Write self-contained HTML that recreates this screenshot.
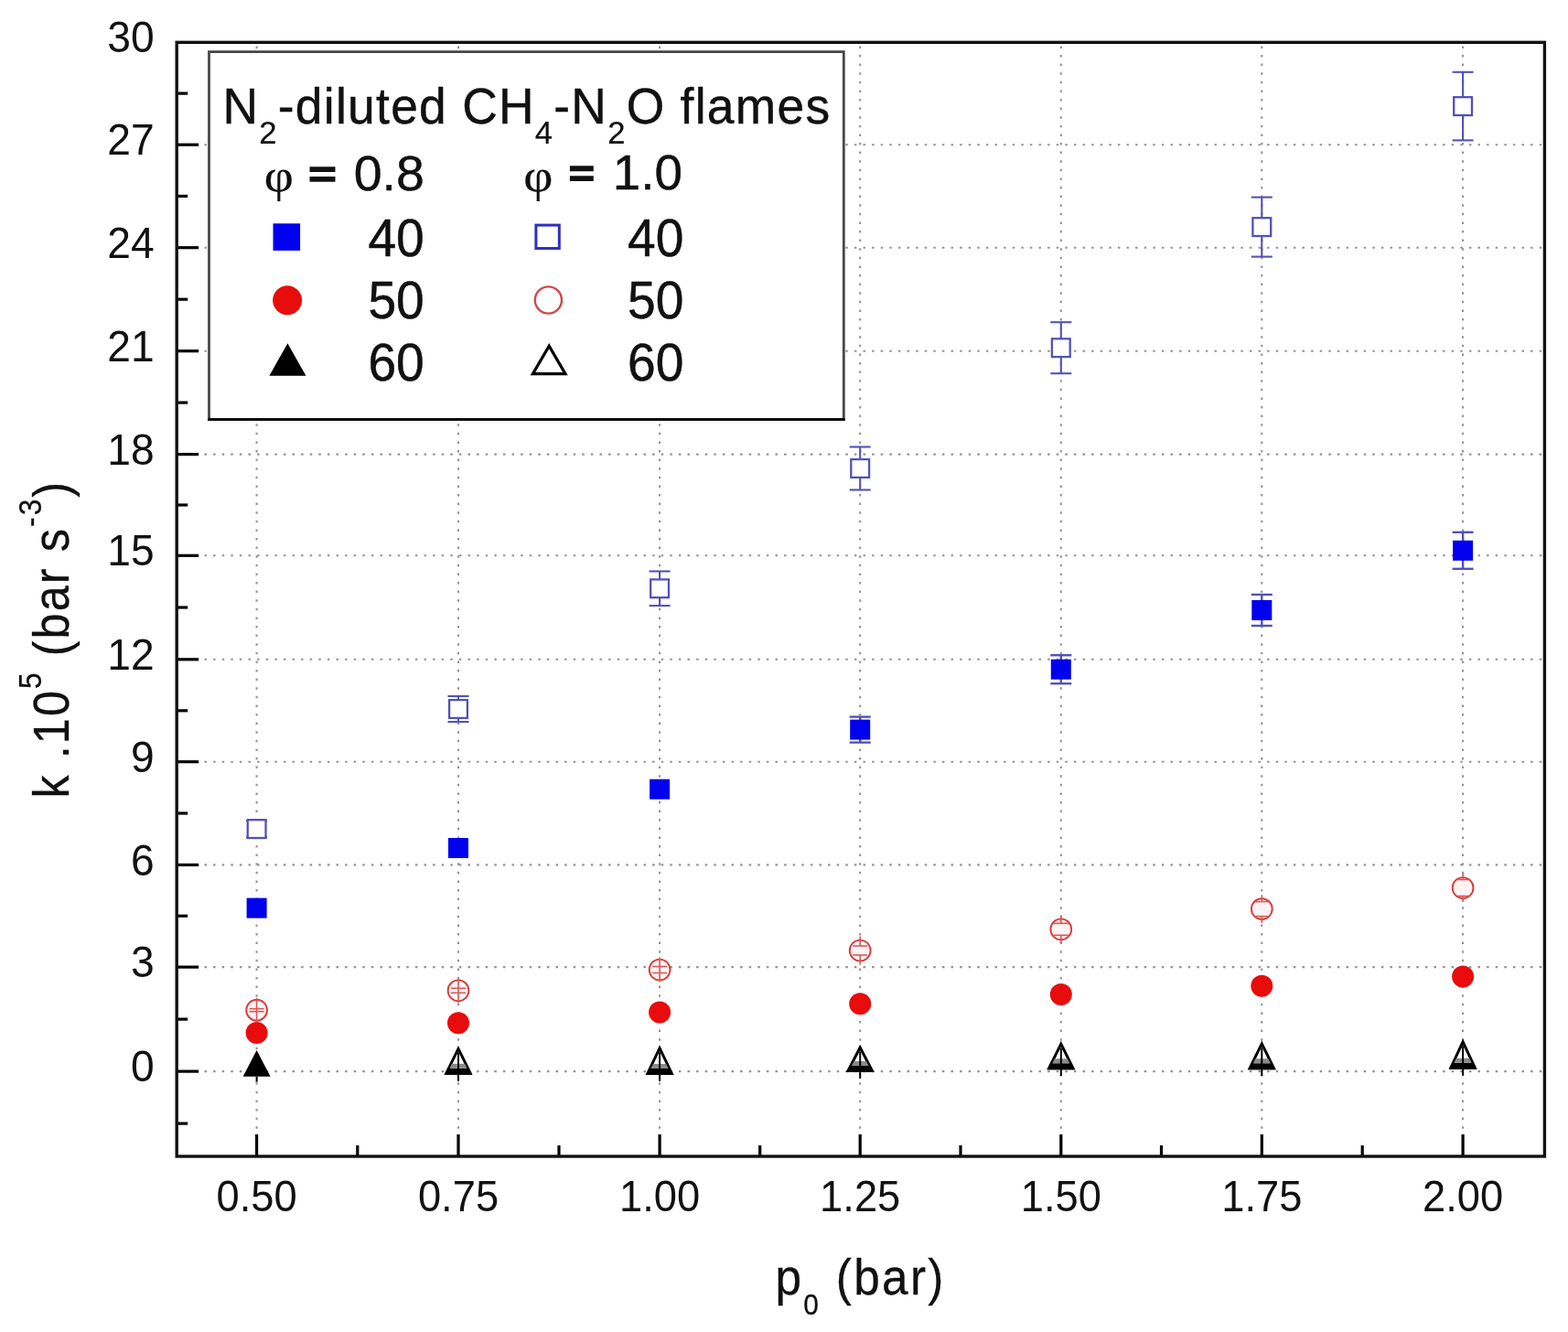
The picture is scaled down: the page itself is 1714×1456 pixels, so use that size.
<!DOCTYPE html>
<html><head><meta charset="utf-8"><title>k vs p0</title>
<style>html,body{margin:0;padding:0;background:#fff;} svg{display:block;}</style>
</head><body>
<svg width="1714" height="1456" viewBox="0 0 1714 1456"><rect width="1714" height="1456" fill="#fff"/><g stroke="#939393" stroke-width="2.1" stroke-dasharray="2.5 7.1" fill="none"><line x1="194.7" y1="1171.1" x2="1686.9" y2="1171.1"/><line x1="194.7" y1="1057.1" x2="1686.9" y2="1057.1"/><line x1="194.7" y1="945.4" x2="1686.9" y2="945.4"/><line x1="194.7" y1="832.7" x2="1686.9" y2="832.7"/><line x1="194.7" y1="720.8" x2="1686.9" y2="720.8"/><line x1="194.7" y1="607.3" x2="1686.9" y2="607.3"/><line x1="194.7" y1="496.6" x2="1686.9" y2="496.6"/><line x1="194.7" y1="383.7" x2="1686.9" y2="383.7"/><line x1="194.7" y1="270.7" x2="1686.9" y2="270.7"/><line x1="194.7" y1="158.2" x2="1686.9" y2="158.2"/><line x1="280.6" y1="1262.5" x2="280.6" y2="47.8"/><line x1="501.0" y1="1262.5" x2="501.0" y2="47.8"/><line x1="721.1" y1="1262.5" x2="721.1" y2="47.8"/><line x1="940.2" y1="1262.5" x2="940.2" y2="47.8"/><line x1="1159.8" y1="1262.5" x2="1159.8" y2="47.8"/><line x1="1379.3" y1="1262.5" x2="1379.3" y2="47.8"/><line x1="1599.1" y1="1262.5" x2="1599.1" y2="47.8"/></g>
<g><polygon points="280.6,1148.0 265.6,1176.7 295.6,1176.7" fill="#000"/><line x1="280.6" y1="1176.7" x2="280.6" y2="1182.7" stroke="#000" stroke-width="2"/><polygon points="501.0,1146.3 487.8,1173.2 514.2,1173.2" fill="#fff" stroke="#000" stroke-width="3" stroke-linejoin="miter"/><polygon points="489.5,1167.7 512.5,1167.7 516.0,1174.7 486.0,1174.7" fill="#000"/><polygon points="494.0,1162.7 508.0,1162.7 510.5,1167.7 491.5,1167.7" fill="#8a8a8a"/><line x1="501.0" y1="1150.8" x2="501.0" y2="1181.7" stroke="#000" stroke-width="2"/><polygon points="721.1,1145.7 707.9,1173.4 734.3,1173.4" fill="#fff" stroke="#000" stroke-width="3" stroke-linejoin="miter"/><polygon points="709.5,1167.9 732.7,1167.9 736.1,1174.9 706.1,1174.9" fill="#000"/><polygon points="714.0,1162.9 728.2,1162.9 730.7,1167.9 711.5,1167.9" fill="#8a8a8a"/><line x1="721.1" y1="1150.2" x2="721.1" y2="1181.9" stroke="#000" stroke-width="2"/><polygon points="940.2,1145.0 927.0,1170.5 953.4,1170.5" fill="#fff" stroke="#000" stroke-width="3" stroke-linejoin="miter"/><polygon points="928.9,1165.0 951.5,1165.0 955.2,1172.0 925.2,1172.0" fill="#000"/><polygon points="933.5,1160.0 946.9,1160.0 949.5,1165.0 930.9,1165.0" fill="#8a8a8a"/><line x1="940.2" y1="1149.5" x2="940.2" y2="1179.0" stroke="#000" stroke-width="2"/><polygon points="1159.8,1141.2 1146.6,1167.8 1173.0,1167.8" fill="#fff" stroke="#000" stroke-width="3" stroke-linejoin="miter"/><polygon points="1148.3,1162.3 1171.3,1162.3 1174.8,1169.3 1144.8,1169.3" fill="#000"/><polygon points="1152.9,1157.3 1166.7,1157.3 1169.3,1162.3 1150.3,1162.3" fill="#8a8a8a"/><line x1="1159.8" y1="1145.7" x2="1159.8" y2="1176.3" stroke="#000" stroke-width="2"/><polygon points="1379.3,1140.8 1366.1,1167.8 1392.5,1167.8" fill="#fff" stroke="#000" stroke-width="3" stroke-linejoin="miter"/><polygon points="1367.8,1162.3 1390.8,1162.3 1394.3,1169.3 1364.3,1169.3" fill="#000"/><polygon points="1372.3,1157.3 1386.3,1157.3 1388.8,1162.3 1369.8,1162.3" fill="#8a8a8a"/><line x1="1379.3" y1="1145.3" x2="1379.3" y2="1176.3" stroke="#000" stroke-width="2"/><polygon points="1599.1,1138.9 1585.9,1167.2 1612.3,1167.2" fill="#fff" stroke="#000" stroke-width="3" stroke-linejoin="miter"/><polygon points="1587.5,1161.7 1610.7,1161.7 1614.1,1168.7 1584.1,1168.7" fill="#000"/><polygon points="1591.9,1156.7 1606.3,1156.7 1608.7,1161.7 1589.5,1161.7" fill="#8a8a8a"/><line x1="1599.1" y1="1143.4" x2="1599.1" y2="1175.7" stroke="#000" stroke-width="2"/><circle cx="280.6" cy="1129.1" r="12" fill="#e80c0c"/><circle cx="501.0" cy="1118.3" r="12" fill="#e80c0c"/><circle cx="721.1" cy="1106.6" r="12" fill="#e80c0c"/><circle cx="940.2" cy="1097.2" r="12" fill="#e80c0c"/><circle cx="1159.8" cy="1086.9" r="12" fill="#e80c0c"/><circle cx="1379.3" cy="1077.7" r="12" fill="#e80c0c"/><circle cx="1599.1" cy="1067.5" r="12" fill="#e80c0c"/><circle cx="280.6" cy="1104.2" r="11.4" fill="#fff3f3" stroke="#d83c3c" stroke-width="1.9"/><g stroke="#d65a5a" stroke-width="1.6"><line x1="272.6" y1="1102.7" x2="288.6" y2="1102.7"/><line x1="272.6" y1="1105.7" x2="288.6" y2="1105.7"/><line x1="280.6" y1="1090.8" x2="280.6" y2="1117.6"/></g><circle cx="501.0" cy="1082.8" r="11.4" fill="#fff3f3" stroke="#d83c3c" stroke-width="1.9"/><g stroke="#d65a5a" stroke-width="1.6"><line x1="493.0" y1="1080.3" x2="509.0" y2="1080.3"/><line x1="493.0" y1="1085.3" x2="509.0" y2="1085.3"/><line x1="501.0" y1="1069.4" x2="501.0" y2="1096.2"/></g><circle cx="721.1" cy="1060.0" r="11.4" fill="#fff3f3" stroke="#d83c3c" stroke-width="1.9"/><g stroke="#d65a5a" stroke-width="1.6"><line x1="713.1" y1="1056.5" x2="729.1" y2="1056.5"/><line x1="713.1" y1="1063.5" x2="729.1" y2="1063.5"/><line x1="721.1" y1="1046.6" x2="721.1" y2="1073.4"/></g><circle cx="940.2" cy="1039.0" r="11.4" fill="#fff3f3" stroke="#d83c3c" stroke-width="1.9"/><g stroke="#d65a5a" stroke-width="1.6"><line x1="932.2" y1="1034.0" x2="948.2" y2="1034.0"/><line x1="932.2" y1="1044.0" x2="948.2" y2="1044.0"/><line x1="940.2" y1="1023.6" x2="940.2" y2="1034.0"/><line x1="940.2" y1="1044.0" x2="940.2" y2="1054.4"/></g><circle cx="1159.8" cy="1015.8" r="11.4" fill="#fff3f3" stroke="#d83c3c" stroke-width="1.9"/><g stroke="#d65a5a" stroke-width="1.6"><line x1="1151.8" y1="1009.3" x2="1167.8" y2="1009.3"/><line x1="1151.8" y1="1022.3" x2="1167.8" y2="1022.3"/><line x1="1159.8" y1="1000.4" x2="1159.8" y2="1009.3"/><line x1="1159.8" y1="1022.3" x2="1159.8" y2="1031.2"/></g><circle cx="1379.3" cy="993.6" r="11.4" fill="#fff3f3" stroke="#d83c3c" stroke-width="1.9"/><g stroke="#d65a5a" stroke-width="1.6"><line x1="1372.2" y1="985.6" x2="1386.4" y2="985.6"/><line x1="1372.2" y1="1001.6" x2="1386.4" y2="1001.6"/><line x1="1379.3" y1="978.2" x2="1379.3" y2="985.6"/><line x1="1379.3" y1="1001.6" x2="1379.3" y2="1009.0"/></g><circle cx="1599.1" cy="970.5" r="11.4" fill="#fff3f3" stroke="#d83c3c" stroke-width="1.9"/><g stroke="#d65a5a" stroke-width="1.6"><line x1="1593.1" y1="961.5" x2="1605.1" y2="961.5"/><line x1="1593.1" y1="979.5" x2="1605.1" y2="979.5"/><line x1="1599.1" y1="955.1" x2="1599.1" y2="961.5"/><line x1="1599.1" y1="979.5" x2="1599.1" y2="985.9"/></g><rect x="269.6" y="981.6" width="22" height="22" fill="#0000ee"/><rect x="490.0" y="916.0" width="22" height="22" fill="#0000ee"/><rect x="710.1" y="851.7" width="22" height="22" fill="#0000ee"/><g stroke="#5252b6" stroke-width="2.4"><line x1="940.2" y1="783.6" x2="940.2" y2="811.6"/><line x1="928.7" y1="783.6" x2="951.7" y2="783.6"/><line x1="928.7" y1="811.6" x2="951.7" y2="811.6"/></g><rect x="929.2" y="786.6" width="22" height="22" fill="#0000ee"/><g stroke="#5252b6" stroke-width="2.4"><line x1="1159.8" y1="716.2" x2="1159.8" y2="747.2"/><line x1="1148.3" y1="716.2" x2="1171.3" y2="716.2"/><line x1="1148.3" y1="747.2" x2="1171.3" y2="747.2"/></g><rect x="1148.8" y="720.7" width="22" height="22" fill="#0000ee"/><g stroke="#5252b6" stroke-width="2.4"><line x1="1379.3" y1="650.0" x2="1379.3" y2="684.0"/><line x1="1367.8" y1="650.0" x2="1390.8" y2="650.0"/><line x1="1367.8" y1="684.0" x2="1390.8" y2="684.0"/></g><rect x="1368.3" y="656.0" width="22" height="22" fill="#0000ee"/><g stroke="#5252b6" stroke-width="2.4"><line x1="1599.1" y1="581.8" x2="1599.1" y2="621.8"/><line x1="1587.6" y1="581.8" x2="1610.6" y2="581.8"/><line x1="1587.6" y1="621.8" x2="1610.6" y2="621.8"/></g><rect x="1588.1" y="590.8" width="22" height="22" fill="#0000ee"/><g stroke="#5252b6" stroke-width="2.1"><line x1="280.6" y1="897.1" x2="280.6" y2="896.1"/><line x1="280.6" y1="916.1" x2="280.6" y2="915.1"/><line x1="269.1" y1="897.1" x2="292.1" y2="897.1"/><line x1="269.1" y1="915.1" x2="292.1" y2="915.1"/></g><rect x="270.7" y="896.2" width="19.8" height="19.8" fill="#fff" stroke="#5252b6" stroke-width="2.3"/><g stroke="#5252b6" stroke-width="2.1"><line x1="501.0" y1="761.0" x2="501.0" y2="765.0"/><line x1="501.0" y1="785.0" x2="501.0" y2="789.0"/><line x1="489.5" y1="761.0" x2="512.5" y2="761.0"/><line x1="489.5" y1="789.0" x2="512.5" y2="789.0"/></g><rect x="491.1" y="765.1" width="19.8" height="19.8" fill="#fff" stroke="#5252b6" stroke-width="2.3"/><g stroke="#5252b6" stroke-width="2.1"><line x1="721.1" y1="624.5" x2="721.1" y2="633.3"/><line x1="721.1" y1="653.3" x2="721.1" y2="662.1"/><line x1="709.6" y1="624.5" x2="732.6" y2="624.5"/><line x1="709.6" y1="662.1" x2="732.6" y2="662.1"/></g><rect x="711.2" y="633.4" width="19.8" height="19.8" fill="#fff" stroke="#5252b6" stroke-width="2.3"/><g stroke="#5252b6" stroke-width="2.1"><line x1="940.2" y1="488.5" x2="940.2" y2="502.0"/><line x1="940.2" y1="522.0" x2="940.2" y2="535.5"/><line x1="928.7" y1="488.5" x2="951.7" y2="488.5"/><line x1="928.7" y1="535.5" x2="951.7" y2="535.5"/></g><rect x="930.3" y="502.1" width="19.8" height="19.8" fill="#fff" stroke="#5252b6" stroke-width="2.3"/><g stroke="#5252b6" stroke-width="2.1"><line x1="1159.8" y1="352.2" x2="1159.8" y2="370.2"/><line x1="1159.8" y1="390.2" x2="1159.8" y2="408.2"/><line x1="1148.3" y1="352.2" x2="1171.3" y2="352.2"/><line x1="1148.3" y1="408.2" x2="1171.3" y2="408.2"/></g><rect x="1149.9" y="370.3" width="19.8" height="19.8" fill="#fff" stroke="#5252b6" stroke-width="2.3"/><g stroke="#5252b6" stroke-width="2.1"><line x1="1379.3" y1="215.6" x2="1379.3" y2="238.1"/><line x1="1379.3" y1="258.1" x2="1379.3" y2="280.6"/><line x1="1367.8" y1="215.6" x2="1390.8" y2="215.6"/><line x1="1367.8" y1="280.6" x2="1390.8" y2="280.6"/></g><rect x="1369.4" y="238.2" width="19.8" height="19.8" fill="#fff" stroke="#5252b6" stroke-width="2.3"/><g stroke="#5252b6" stroke-width="2.1"><line x1="1599.1" y1="78.8" x2="1599.1" y2="106.1"/><line x1="1599.1" y1="126.1" x2="1599.1" y2="153.4"/><line x1="1587.6" y1="78.8" x2="1610.6" y2="78.8"/><line x1="1587.6" y1="153.4" x2="1610.6" y2="153.4"/></g><rect x="1589.2" y="106.2" width="19.8" height="19.8" fill="#fff" stroke="#5252b6" stroke-width="2.3"/></g>
<g stroke="#000" stroke-width="3.2" fill="none"><line x1="193.2" y1="1171.1" x2="217.2" y2="1171.1"/><line x1="193.2" y1="1057.1" x2="217.2" y2="1057.1"/><line x1="193.2" y1="945.4" x2="217.2" y2="945.4"/><line x1="193.2" y1="832.7" x2="217.2" y2="832.7"/><line x1="193.2" y1="720.8" x2="217.2" y2="720.8"/><line x1="193.2" y1="607.3" x2="217.2" y2="607.3"/><line x1="193.2" y1="496.6" x2="217.2" y2="496.6"/><line x1="193.2" y1="383.7" x2="217.2" y2="383.7"/><line x1="193.2" y1="270.7" x2="217.2" y2="270.7"/><line x1="193.2" y1="158.2" x2="217.2" y2="158.2"/><line x1="193.2" y1="1228.1" x2="205.2" y2="1228.1"/><line x1="193.2" y1="1114.1" x2="205.2" y2="1114.1"/><line x1="193.2" y1="1001.2" x2="205.2" y2="1001.2"/><line x1="193.2" y1="889.0" x2="205.2" y2="889.0"/><line x1="193.2" y1="776.8" x2="205.2" y2="776.8"/><line x1="193.2" y1="664.0" x2="205.2" y2="664.0"/><line x1="193.2" y1="552.0" x2="205.2" y2="552.0"/><line x1="193.2" y1="440.1" x2="205.2" y2="440.1"/><line x1="193.2" y1="327.2" x2="205.2" y2="327.2"/><line x1="193.2" y1="214.4" x2="205.2" y2="214.4"/><line x1="193.2" y1="102.1" x2="205.2" y2="102.1"/><line x1="280.6" y1="1264.0" x2="280.6" y2="1240.0"/><line x1="501.0" y1="1264.0" x2="501.0" y2="1240.0"/><line x1="721.1" y1="1264.0" x2="721.1" y2="1240.0"/><line x1="940.2" y1="1264.0" x2="940.2" y2="1240.0"/><line x1="1159.8" y1="1264.0" x2="1159.8" y2="1240.0"/><line x1="1379.3" y1="1264.0" x2="1379.3" y2="1240.0"/><line x1="1599.1" y1="1264.0" x2="1599.1" y2="1240.0"/><line x1="390.8" y1="1264.0" x2="390.8" y2="1252.0"/><line x1="611.0" y1="1264.0" x2="611.0" y2="1252.0"/><line x1="830.7" y1="1264.0" x2="830.7" y2="1252.0"/><line x1="1050.0" y1="1264.0" x2="1050.0" y2="1252.0"/><line x1="1269.5" y1="1264.0" x2="1269.5" y2="1252.0"/><line x1="1489.2" y1="1264.0" x2="1489.2" y2="1252.0"/></g>
<rect x="193.2" y="46.3" width="1495.2" height="1217.7" fill="none" stroke="#111" stroke-width="3.4"/>
<g font-family="'Liberation Sans', Arial, Helvetica, sans-serif" font-size="46" fill="#111" stroke="#111" stroke-width="0"><g transform="matrix(1.005 0 0 1.036 168.6 1182.20)"><text x="0" y="0" text-anchor="end">0</text></g><g transform="matrix(1.005 0 0 1.036 168.6 1068.20)"><text x="0" y="0" text-anchor="end">3</text></g><g transform="matrix(1.005 0 0 1.036 168.6 956.50)"><text x="0" y="0" text-anchor="end">6</text></g><g transform="matrix(1.005 0 0 1.036 168.6 843.80)"><text x="0" y="0" text-anchor="end">9</text></g><g transform="matrix(1.005 0 0 1.036 168.6 731.90)"><text x="0" y="0" text-anchor="end">12</text></g><g transform="matrix(1.005 0 0 1.036 168.6 618.40)"><text x="0" y="0" text-anchor="end">15</text></g><g transform="matrix(1.005 0 0 1.036 168.6 507.70)"><text x="0" y="0" text-anchor="end">18</text></g><g transform="matrix(1.005 0 0 1.036 168.6 394.80)"><text x="0" y="0" text-anchor="end">21</text></g><g transform="matrix(1.005 0 0 1.036 168.6 281.80)"><text x="0" y="0" text-anchor="end">24</text></g><g transform="matrix(1.005 0 0 1.036 168.6 169.30)"><text x="0" y="0" text-anchor="end">27</text></g><g transform="matrix(1.005 0 0 1.036 168.6 57.20)"><text x="0" y="0" text-anchor="end">30</text></g><g transform="matrix(0.985 0 0 1.047 280.60 1323.9)"><text x="0" y="0" text-anchor="middle">0.50</text></g><g transform="matrix(0.985 0 0 1.047 501.00 1323.9)"><text x="0" y="0" text-anchor="middle">0.75</text></g><g transform="matrix(0.985 0 0 1.047 721.10 1323.9)"><text x="0" y="0" text-anchor="middle">1.00</text></g><g transform="matrix(0.985 0 0 1.047 940.20 1323.9)"><text x="0" y="0" text-anchor="middle">1.25</text></g><g transform="matrix(0.985 0 0 1.047 1159.80 1323.9)"><text x="0" y="0" text-anchor="middle">1.50</text></g><g transform="matrix(0.985 0 0 1.047 1379.30 1323.9)"><text x="0" y="0" text-anchor="middle">1.75</text></g><g transform="matrix(0.985 0 0 1.047 1599.10 1323.9)"><text x="0" y="0" text-anchor="middle">2.00</text></g></g>
<g transform="matrix(1.0363 0 0 1.0049 847.39 1415.40)"><text x="0" y="0" font-family="'Liberation Sans', Arial, Helvetica, sans-serif" font-size="55" font-weight="normal" fill="#111" stroke="#111" stroke-width="0.3" letter-spacing="2.5" transform="scale(0.9 1)">p<tspan font-size="32" dy="21">0</tspan><tspan dy="-21"> (bar)</tspan></text></g>
<g transform="matrix(0.9821 0 0 1.0006 75.01 872.60)"><text x="0" y="0" font-family="'Liberation Sans', Arial, Helvetica, sans-serif" font-size="56" font-weight="normal" fill="#111" stroke="#111" stroke-width="0.3" letter-spacing="2.3" transform="rotate(-90) scale(0.9 1)">k .10<tspan font-size="35" dy="-30.6">5</tspan><tspan dy="30.6"> (bar s</tspan><tspan font-size="35" dy="-30.6">-3</tspan><tspan dy="30.6">)</tspan></text></g>
<rect x="228.5" y="56.6" width="693.8" height="401.9" fill="#fff" stroke="#484848" stroke-width="2.8"/>
<line x1="227.1" y1="458.5" x2="923.6999999999999" y2="458.5" stroke="#0a0a0a" stroke-width="3"/>
<g transform="matrix(0.9881 0 0 1.0115 243.45 134.75)"><text x="0" y="0" font-family="'Liberation Sans', Arial, Helvetica, sans-serif" font-size="54" font-weight="normal" fill="#111" stroke="#111" stroke-width="0.45" letter-spacing="1.3">N<tspan font-size="35" dy="22.4" stroke-width="0.2">2</tspan><tspan dy="-22.4">-diluted CH</tspan><tspan font-size="35" dy="22.4" stroke-width="0.2">4</tspan><tspan dy="-22.4">-N</tspan><tspan font-size="35" dy="22.4" stroke-width="0.2">2</tspan><tspan dy="-22.4">O flames</tspan></text></g>
<g transform="matrix(1.0692 0 0 0.9914 288.66 208.99)"><text x="0" y="0" font-family="'Liberation Serif', 'Times New Roman', serif" font-size="52" font-weight="normal" fill="#111" stroke="#111" stroke-width="0.2">φ</text></g>
<g transform="matrix(1.0692 0 0 0.9914 572.16 208.99)"><text x="0" y="0" font-family="'Liberation Serif', 'Times New Roman', serif" font-size="52" font-weight="normal" fill="#111" stroke="#111" stroke-width="0.2">φ</text></g>
<g transform="matrix(1.0036 0 0 0.7524 337.30 203.67)"><text x="0" y="0" font-family="'Liberation Sans', Arial, Helvetica, sans-serif" font-size="52" font-weight="bold" fill="#111" stroke="#111" stroke-width="1.8">=</text></g>
<g transform="matrix(0.9286 0 0 0.7762 621.67 204.03)"><text x="0" y="0" font-family="'Liberation Sans', Arial, Helvetica, sans-serif" font-size="52" font-weight="bold" fill="#111" stroke="#111" stroke-width="1.8">=</text></g>
<g transform="matrix(1.0282 0 0 1.0103 386.64 208.09)"><text x="0" y="0" font-family="'Liberation Sans', Arial, Helvetica, sans-serif" font-size="54" font-weight="normal" fill="#111" stroke="#111" stroke-width="0.45">0.8</text></g>
<g transform="matrix(1.0145 0 0 0.9846 669.74 207.42)"><text x="0" y="0" font-family="'Liberation Sans', Arial, Helvetica, sans-serif" font-size="54" font-weight="normal" fill="#111" stroke="#111" stroke-width="0.45">1.0</text></g>
<g transform="matrix(0.985 0 0 1.03 463.8 279.6)"><text x="0" y="0" text-anchor="end" font-family="'Liberation Sans', Arial, Helvetica, sans-serif" font-size="56" fill="#111" stroke="#111" stroke-width="0.5">40</text></g>
<g transform="matrix(0.985 0 0 1.03 747.4 279.6)"><text x="0" y="0" text-anchor="end" font-family="'Liberation Sans', Arial, Helvetica, sans-serif" font-size="56" fill="#111" stroke="#111" stroke-width="0.5">40</text></g>
<g transform="matrix(0.985 0 0 1.03 463.8 347.8)"><text x="0" y="0" text-anchor="end" font-family="'Liberation Sans', Arial, Helvetica, sans-serif" font-size="56" fill="#111" stroke="#111" stroke-width="0.5">50</text></g>
<g transform="matrix(0.985 0 0 1.03 747.4 347.8)"><text x="0" y="0" text-anchor="end" font-family="'Liberation Sans', Arial, Helvetica, sans-serif" font-size="56" fill="#111" stroke="#111" stroke-width="0.5">50</text></g>
<g transform="matrix(0.985 0 0 1.03 463.8 415.5)"><text x="0" y="0" text-anchor="end" font-family="'Liberation Sans', Arial, Helvetica, sans-serif" font-size="56" fill="#111" stroke="#111" stroke-width="0.5">60</text></g>
<g transform="matrix(0.985 0 0 1.03 747.4 415.5)"><text x="0" y="0" text-anchor="end" font-family="'Liberation Sans', Arial, Helvetica, sans-serif" font-size="56" fill="#111" stroke="#111" stroke-width="0.5">60</text></g>
<rect x="298.5" y="244.3" width="29.6" height="29.6" fill="#0000ee"/>
<rect x="585.9" y="246.1" width="25.4" height="25.4" fill="#fff" stroke="#2f2fc0" stroke-width="3"/>
<circle cx="314.1" cy="328.2" r="16" fill="#e80c0c"/>
<circle cx="599.4" cy="328" r="14.6" fill="none" stroke="#d24848" stroke-width="2.4"/>
<polygon points="314.4,375.2 294.4,410.8 334.4,410.8" fill="#000"/>
<polygon points="600.2,378.2 582.4,408.7 618,408.7" fill="none" stroke="#000" stroke-width="3.2" stroke-linejoin="miter"/></svg>
</body></html>
